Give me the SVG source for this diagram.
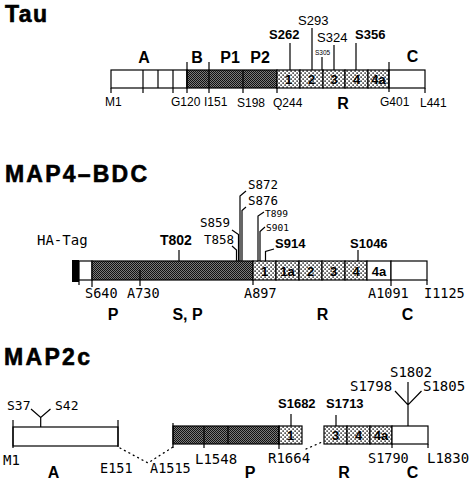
<svg xmlns="http://www.w3.org/2000/svg" width="474" height="481" viewBox="0 0 474 481">
<defs>
<pattern id="dark" width="2" height="2" patternUnits="userSpaceOnUse">
<rect width="2" height="2" fill="#7a7a7a"/>
<rect x="0" y="0" width="1" height="1" fill="#111"/>
<rect x="1" y="1" width="1" height="1" fill="#111"/>
</pattern>
<pattern id="light" width="4" height="4" patternUnits="userSpaceOnUse">
<rect width="4" height="4" fill="#fff"/>
<rect x="0.4" y="0.4" width="1.4" height="1.4" fill="#000"/>
<rect x="2.4" y="2.4" width="1.4" height="1.4" fill="#000"/>
</pattern>
<style>
.title{font-family:"Liberation Sans",Arial,sans-serif;font-weight:bold;font-size:23px;fill:#000;stroke:#000;stroke-width:0.6}
.dom{font-family:"Liberation Sans",Arial,sans-serif;font-weight:bold;font-size:16px;fill:#000;text-anchor:middle}
.bl{font-family:"Liberation Sans",Arial,sans-serif;font-weight:bold;font-size:13px;fill:#000}
.box{font-family:"Liberation Sans",Arial,sans-serif;font-weight:bold;font-size:13px;fill:#000;text-anchor:middle}
.t{font-family:"Liberation Sans",Arial,sans-serif;font-size:12px;fill:#000}
.t13{font-family:"Liberation Sans",Arial,sans-serif;font-size:13px;fill:#000}
.ts{font-family:"Liberation Sans",Arial,sans-serif;font-size:6.5px;fill:#000}
.m{font-family:"DejaVu Sans Mono",monospace;font-size:13.5px;fill:#000}
.m12{font-family:"DejaVu Sans Mono",monospace;font-size:12.5px;fill:#000}
.m9{font-family:"DejaVu Sans Mono",monospace;font-size:9.5px;fill:#000}
.m14{font-family:"DejaVu Sans Mono",monospace;font-size:14px;fill:#000}
.seg{stroke:#000;stroke-width:1.2}
.w{fill:#fff}
.d{fill:url(#dark)}
.l{fill:url(#light)}
.ln{stroke:#000;stroke-width:1.2;fill:none}
.dot{stroke:#000;stroke-width:1.3;fill:none;stroke-dasharray:1 4;stroke-linecap:round}
</style>
</defs>
<rect width="474" height="481" fill="#fff"/>

<!-- TAU -->
<g id="tau">
<text class="title" x="5" y="22" textLength="42" lengthAdjust="spacing">Tau</text>
<g id="tau-bar">
<rect class="seg w" x="111" y="70" width="76" height="18"/>
<rect class="seg d" x="187" y="70" width="90" height="18"/>
<rect class="seg l" x="277" y="70" width="23" height="18"/>
<rect class="seg l" x="300" y="70" width="23" height="18"/>
<rect class="seg l" x="323" y="70" width="22" height="18"/>
<rect class="seg l" x="345" y="70" width="23" height="18"/>
<rect class="seg l" x="368" y="70" width="21" height="18"/>
<rect class="seg w" x="389" y="70" width="36" height="18"/>
</g>
<g id="tau-ticks" class="ln">
<path d="M111 88V93M143 70V93M158 70V88M173 70V93M187 62V93M209 62V93M243 70V93M277 88V93M389 62V92M425 88V93"/>
<path d="M290 43V70M312 28V70M334 45V70M322 57V70M356 43V70"/>
</g>
<text class="dom" x="144" y="63">A</text>
<text class="dom" x="197" y="63">B</text>
<text class="dom" x="230" y="63">P1</text>
<text class="dom" x="260" y="63">P2</text>
<text class="dom" x="412.5" y="62">C</text>
<text class="dom" x="343" y="109">R</text>
<text class="box" x="288.5" y="84">1</text>
<text class="box" x="311.5" y="84">2</text>
<text class="box" x="334" y="84">3</text>
<text class="box" x="356.5" y="84">4</text>
<text class="box" x="378.5" y="84">4a</text>
<text class="bl" x="269" y="39">S262</text>
<text class="t13" x="298" y="25">S293</text>
<text class="t13" x="317" y="42">S324</text>
<text class="ts" x="315" y="55">S305</text>
<text class="bl" x="355" y="39">S356</text>
<text class="t" x="105" y="106">M1</text>
<text class="t" x="171" y="106">G120</text>
<text class="t" x="204" y="106">I151</text>
<text class="t" x="237" y="107">S198</text>
<text class="t" x="273" y="107">Q244</text>
<text class="t" x="380" y="106">G401</text>
<text class="t" x="420" y="107">L441</text>
</g>

<!-- MAP4-BDC -->
<g id="map4">
<text class="title" x="5" y="182" textLength="142" lengthAdjust="spacing">MAP4–BDC</text>
<g id="map4-bar">
<rect x="72" y="260" width="7" height="22" fill="#000"/>
<rect class="seg w" x="79" y="261" width="13" height="19"/>
<rect class="seg d" x="92" y="261" width="161" height="19"/>
<rect class="seg l" x="253" y="261" width="23" height="19"/>
<rect class="seg l" x="276" y="261" width="23" height="19"/>
<rect class="seg l" x="299" y="261" width="23" height="19"/>
<rect class="seg l" x="322" y="261" width="23" height="19"/>
<rect class="seg l" x="345" y="261" width="22" height="19"/>
<rect class="seg w" x="367" y="261" width="24" height="19"/>
<rect class="seg w" x="391" y="261" width="36" height="19"/>
</g>
<g id="map4-ticks" class="ln">
<path d="M79 280V285M92 280V287M140 270V286M253 280V285M391 280V286M427 280V285"/>
<path d="M179 250V261"/>
<polyline points="232,230 238.5,234.5 238.5,261"/>
<polyline points="232,246 236.5,250 236.5,261"/>
<polyline points="246,191 240,196 240,261"/>
<polyline points="246,207 242,210.5 242,261"/>
<polyline points="264,212 258,216 258,261"/>
<polyline points="265,227 260,231.5 260,261"/>
<polyline points="274,249 265.5,251.5 265.5,261"/>
<path d="M358 250V261"/>
</g>
<text class="m14" x="37" y="245">HA-Tag</text>
<text class="bl" x="160" y="245" style="font-size:14px">T802</text>
<text class="m12" x="200" y="227">S859</text>
<text class="m12" x="204" y="244">T858</text>
<text class="m12" x="248" y="189">S872</text>
<text class="m12" x="248" y="205">S876</text>
<text class="m9" x="265" y="217">T899</text>
<text class="m9" x="266" y="231">S901</text>
<text class="bl" x="275" y="248">S914</text>
<text class="bl" x="350" y="248">S1046</text>
<text class="box" x="264.5" y="276">1</text>
<text class="box" x="287.5" y="276">1a</text>
<text class="box" x="310.5" y="276">2</text>
<text class="box" x="333.5" y="276">3</text>
<text class="box" x="356" y="276">4</text>
<text class="box" x="379" y="276">4a</text>
<text class="m" x="85" y="298">S640</text>
<text class="m" x="127" y="298">A730</text>
<text class="m" x="244" y="298">A897</text>
<text class="m" x="368" y="298">A1091</text>
<text class="m" x="424" y="298">I1125</text>
<text class="dom" x="113" y="320">P</text>
<text class="dom" x="187.5" y="320">S, P</text>
<text class="dom" x="322.5" y="320">R</text>
<text class="dom" x="407.5" y="320">C</text>
</g>

<!-- MAP2c -->
<g id="map2c">
<text class="title" x="4" y="365" textLength="86" lengthAdjust="spacing">MAP2c</text>
<g id="map2c-bars">
<rect class="seg w" x="13" y="427" width="105" height="19"/>
<rect class="seg d" x="173" y="426" width="106" height="18"/>
<rect class="seg l" x="279" y="426" width="23" height="18"/>
<rect class="seg l" x="324" y="426" width="23" height="18"/>
<rect class="seg l" x="347" y="426" width="23" height="18"/>
<rect class="seg l" x="370" y="426" width="22" height="18"/>
<rect class="seg w" x="392" y="426" width="36" height="18"/>
</g>
<g id="map2c-ticks" class="ln">
<path d="M13 420V448M118 420V447M173 423V448M204 426V448M228 426V444M279 426V449M392 444V448M428 444V448"/>
<path d="M31 409L40.7 417.5L50.5 409M40.7 417.5V427"/>
<path d="M291 414V426M336 415V426"/>
<path d="M395 391L408 405L421.5 391M408 382V426"/>
</g>
<g id="connectors">
<polyline class="dot" points="120,448 148,463 173,447"/>
<polyline class="dot" points="306,449 322,442"/>
</g>
<text class="m12" x="7" y="410" style="font-size:13px">S37</text>
<text class="m12" x="55" y="410" style="font-size:13px">S42</text>
<text class="m14" x="3" y="465">M1</text>
<text class="m" x="100" y="473">E151</text>
<text class="m" x="150" y="473">A1515</text>
<text class="m14" x="195" y="464">L1548</text>
<text class="m14" x="268" y="463">R1664</text>
<text class="m" x="368" y="463">S1790</text>
<text class="m14" x="427" y="463">L1830</text>
<text class="bl" x="278" y="408">S1682</text>
<text class="bl" x="326" y="408">S1713</text>
<text class="m14" x="390" y="377">S1802</text>
<text class="m14" x="350" y="391">S1798</text>
<text class="m14" x="423" y="391">S1805</text>
<text class="box" x="290.5" y="440">1</text>
<text class="box" x="335.5" y="440">3</text>
<text class="box" x="358.5" y="440">4</text>
<text class="box" x="381" y="440">4a</text>
<text class="dom" x="53.5" y="478">A</text>
<text class="dom" x="250" y="478">P</text>
<text class="dom" x="344" y="478">R</text>
<text class="dom" x="412.5" y="478">C</text>
</g>
</svg>
